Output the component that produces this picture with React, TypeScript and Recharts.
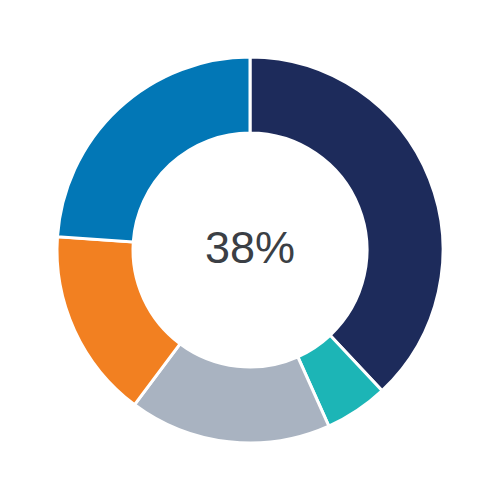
import React from "react";
import { PieChart, Pie, Cell } from "recharts";

const categories = ["A", "B", "C", "D", "E"];
const values = [38, 5.3, 16.9, 15.9, 23.9];
const colors = ["#1d2b5b", "#1cb5b6", "#a9b3c1", "#f28021", "#0277b6"];
const centerLabel = "38%";

const data = categories.map((name, i) => ({ name, value: values[i] }));

export default function App() {
  return (
    <div style={{ width: 484, height: 484, position: "relative" }}>
      <PieChart width={484} height={484}>
        <Pie
          data={data}
          dataKey="value"
          nameKey="name"
          cx="50%"
          cy="50%"
          innerRadius={117}
          outerRadius={193}
          startAngle={90}
          endAngle={-270}
          stroke="#ffffff"
          strokeWidth={3}
          isAnimationActive={false}
        >
          {data.map((d, i) => (
            <Cell key={d.name} fill={colors[i]} />
          ))}
        </Pie>
        <text
          x={242}
          y={239}
          textAnchor="middle"
          dominantBaseline="central"
          fontFamily="Liberation Sans, Arial, sans-serif"
          fontSize={45}
          fill="#3b3f45"
        >
          {centerLabel}
        </text>
      </PieChart>
    </div>
  );
}
